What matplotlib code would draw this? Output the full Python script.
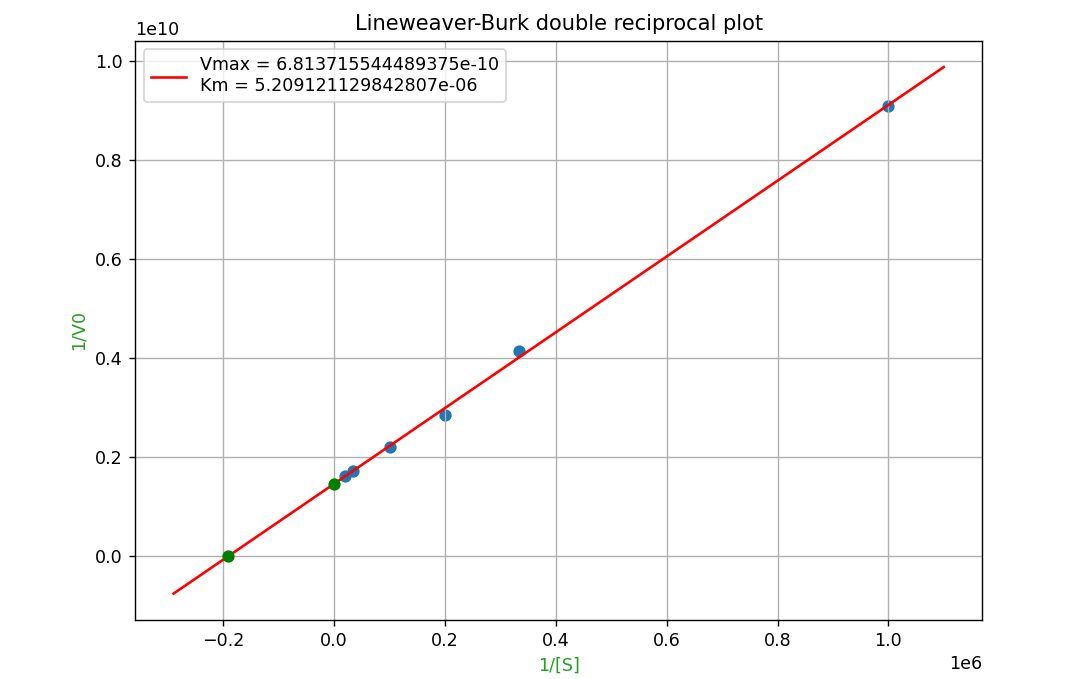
import matplotlib
matplotlib.use("Agg")
import matplotlib.pyplot as plt
import numpy as np

# measured points: 1/[S] and 1/V0
inv_s = [1.0e6, 0.3333e6, 0.2e6, 0.1e6, 0.03333e6, 0.02e6]
inv_v0 = [9.1e9, 4.15e9, 2.85e9, 2.2e9, 1.73e9, 1.63e9]

vmax = 6.813715544489375e-10
km = 5.209121129842807e-06

# fitted line range
x_fit = np.array([-0.29e6, 1.1e6])
y_fit = 1 / vmax + (km / vmax) * x_fit

# intercepts
x_int = [-1 / km, 0]
y_int = [0, 1 / vmax]

dpi = 126
fig = plt.figure(figsize=(1089 / dpi, 679 / dpi), dpi=dpi)
ax = fig.add_axes([0.124, 0.087, 0.778, 0.853])

ax.scatter(inv_s, inv_v0)
ax.plot(x_fit, y_fit, color='red',
        label='Vmax = ' + str(vmax) + '\nKm = ' + str(km))
ax.scatter(x_int, y_int, color='green', zorder=3)

ax.set_xlabel('1/[S]', color='#22a022')
ax.set_ylabel('1/V0', color='#22a022')
ax.set_title('Lineweaver-Burk double reciprocal plot')
ax.grid(True)
ax.legend(loc='upper left')

fig.savefig('out.png', dpi=dpi)
